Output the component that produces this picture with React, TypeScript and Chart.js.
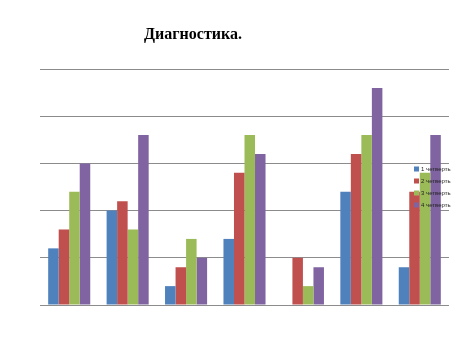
import React, { useEffect, useRef } from "react";
import { Chart, registerables } from "chart.js";

Chart.register(...registerables);

const title = "Диагностика.";
const categories = ["1", "2", "3", "4", "5", "6", "7"];
const seriesLabels = ["1 четверть", "2 четверть", "3 четверть", "4 четверть"];
const q1 = [2.4, 4.0, 0.8, 2.8, 0, 4.8, 1.6];
const q2 = [3.2, 4.4, 1.6, 5.6, 2.0, 6.4, 4.8];
const q3 = [4.8, 3.2, 2.8, 7.2, 0.8, 7.2, 5.6];
const q4 = [6.0, 7.2, 2.0, 6.4, 1.6, 9.2, 7.2];
const colors = ["#4F81BD", "#C0504D", "#9BBB59", "#8064A2"];

const overlayPlugin = {
  id: "overlay",
  afterDraw(chart: any) {
    const ctx = chart.ctx;
    ctx.save();
    // title
    ctx.fillStyle = "#000";
    ctx.font = "bold 16px 'Liberation Serif', 'Times New Roman', serif";
    ctx.textAlign = "center";
    ctx.textBaseline = "middle";
    ctx.fillText(title, 193, 35);
    // legend
    ctx.font = "6px 'Liberation Sans', Arial, sans-serif";
    ctx.textAlign = "left";
    chart.data.datasets.forEach((ds: any, i: number) => {
      const y = 169 + i * 12;
      ctx.fillStyle = ds.backgroundColor;
      ctx.fillRect(414, y - 2.5, 5, 5);
      ctx.fillStyle = "#222";
      ctx.fillText(ds.label, 421, y);
    });
    ctx.restore();
  },
};

export default function App() {
  const ref = useRef<HTMLCanvasElement | null>(null);
  useEffect(() => {
    if (!ref.current) return;
    const data = [q1, q2, q3, q4];
    const chart = new Chart(ref.current, {
      type: "bar",
      data: {
        labels: categories,
        datasets: seriesLabels.map((label, i) => ({
          label,
          data: data[i],
          backgroundColor: colors[i],
          borderWidth: 0,
          barPercentage: 1,
          categoryPercentage: 0.72,
        })),
      },
      options: {
        responsive: false,
        animation: false,
        layout: { padding: { left: 40, right: 25, top: 69, bottom: 42 } },
        plugins: {
          legend: { display: false },
          title: { display: false },
          tooltip: { enabled: false },
        },
        scales: {
          x: {
            grid: { display: false },
            border: { display: false },
            ticks: { display: false },
          },
          y: {
            min: 0,
            max: 10,
            ticks: { display: false, stepSize: 2 },
            grid: { color: "#8c8c8c", lineWidth: 1, drawTicks: false },
            border: { display: false },
          },
        },
      },
      plugins: [overlayPlugin],
    });
    return () => chart.destroy();
  }, []);
  return (
    <div style={{ position: "fixed", left: 0, top: 0, width: 474, height: 355, background: "#fff" }}>
      <canvas ref={ref} width={474} height={355} />
    </div>
  );
}
